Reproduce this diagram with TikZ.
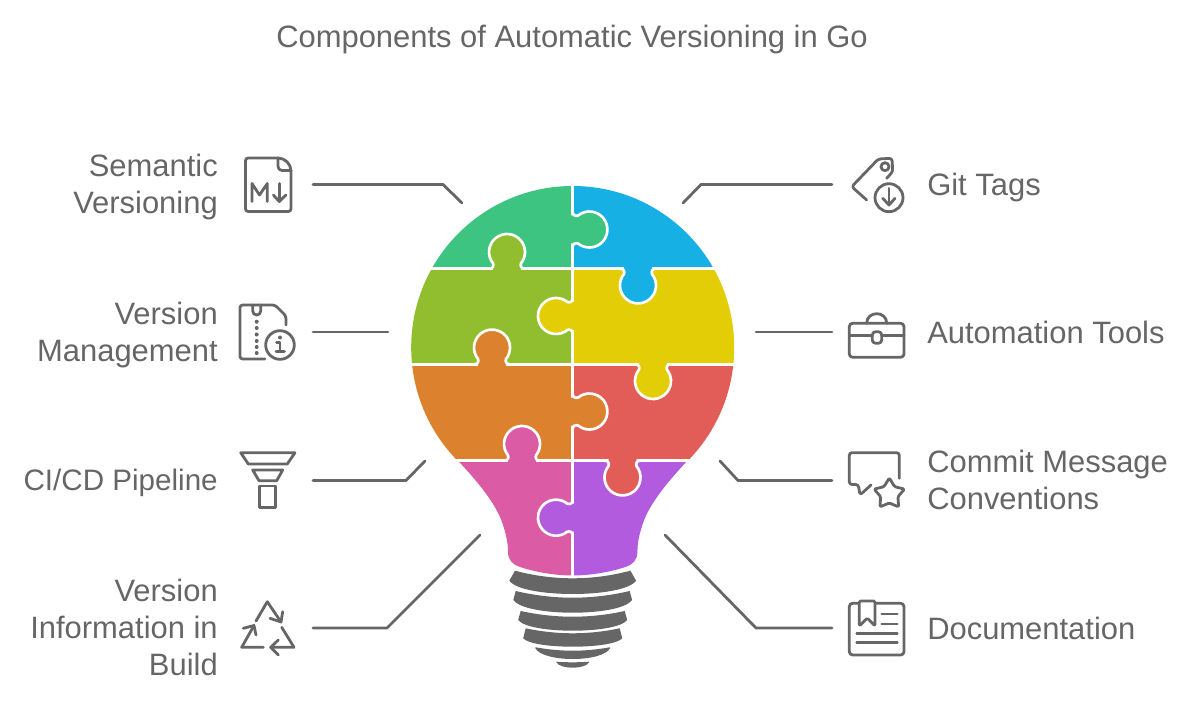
\documentclass[tikz,border=0pt]{standalone}
\usepackage{fontspec}
\setmainfont{Liberation Sans}
\usetikzlibrary{calc}

\definecolor{inkgray}{HTML}{666666}
\definecolor{pzgreen}{HTML}{3CC480}
\definecolor{pzblue}{HTML}{16B0E4}
\definecolor{pzlime}{HTML}{90BE2E}
\definecolor{pzyellow}{HTML}{E2CD07}
\definecolor{pzorange}{HTML}{DC812E}
\definecolor{pzred}{HTML}{E25D58}
\definecolor{pzpink}{HTML}{DB5BA5}
\definecolor{pzpurple}{HTML}{B35BDE}

\tikzset{
    seam/.style={draw=white, line width=2pt},
    leader/.style={draw=inkgray, line width=2.1pt, line cap=round, line join=round},
    icon/.style={draw=inkgray, line width=2.1pt, line cap=round, line join=round},
    label/.style={text=inkgray, inner sep=0pt, font=\fontsize{23.2}{27.7}\selectfont},
}

% one tab of the puzzle: base middle, turn, colour
\newcommand{\puzzletab}[4]{
    \begin{scope}[shift={(#1,#2)}, rotate=#3]
        \fill[#4] (-14,1.6) -- (-14,-5.4) arc[start angle=141.1, end angle=398.9, radius=18] -- (14,1.6) -- cycle;
        \fill[#4] (-17.5,0) .. controls (-14.5,0) and (-13,-2.5) .. (-14,-5.4) -- (14,-5.4) .. controls (13,-2.5) and (14.5,0) .. (17.5,0) -- cycle;
        \draw[seam, line cap=round] (-17.5,0) .. controls (-14.5,0) and (-13,-2.5) .. (-14,-5.4)
            arc[start angle=141.1, end angle=398.9, radius=18]
            .. controls (13,-2.5) and (14.5,0) .. (17.5,0);
    \end{scope}
}

\begin{document}
\begin{tikzpicture}[x=0.75pt, y=-0.75pt]
    \useasboundingbox (0,0) rectangle (1200,702);

    % glass
    \begin{scope}
        \clip (572.7,347.5) circle (161.5);
        \fill[pzgreen] (400,180) rectangle (572.7,268.7);
        \fill[pzblue] (572.7,180) rectangle (740,268.7);
        \fill[pzlime] (400,268.7) rectangle (572.7,364.3);
        \fill[pzyellow] (572.7,268.7) rectangle (740,364.3);
        \fill[pzorange] (400,364.3) rectangle (572.7,460.7);
        \fill[pzred] (572.7,364.3) rectangle (740,460.7);
    \end{scope}
    \fill[pzpink] (458,460.7) .. controls (478,482) and (497,505) .. (503,525)
        .. controls (507,537) and (508,545) .. (508,552)
        .. controls (508,560) and (513,565) .. (520,567)
        .. controls (535,572) and (555,575.5) .. (572.7,575.5) -- (572.7,460.7) -- cycle;
    \fill[pzpurple] (687.4,460.7) .. controls (667.4,482) and (648.4,505) .. (642.4,525)
        .. controls (638.4,537) and (637.4,545) .. (637.4,552)
        .. controls (637.4,560) and (632.4,565) .. (625.4,567)
        .. controls (610.4,572) and (590.4,575.5) .. (572.7,575.5) -- (572.7,460.7) -- cycle;

    \draw[seam] (572.7,184) -- (572.7,577);
    \draw[seam] (425,268.7) -- (720,268.7);
    \draw[seam] (405,364.3) -- (740,364.3);
    \draw[seam] (450,460.7) -- (695,460.7);

    \puzzletab{572.7}{229.5}{-90}{pzgreen}
    \puzzletab{507}{268.7}{0}{pzlime}
    \puzzletab{638}{268.7}{180}{pzblue}
    \puzzletab{572.7}{316}{90}{pzyellow}
    \puzzletab{492}{364.3}{0}{pzorange}
    \puzzletab{653}{364.3}{180}{pzyellow}
    \puzzletab{572.7}{411.5}{-90}{pzorange}
    \puzzletab{522}{460.7}{0}{pzpink}
    \puzzletab{622.5}{460.7}{180}{pzred}
    \puzzletab{572.7}{517.7}{90}{pzpurple}

    % screw base
    \foreach \xt/\yt/\ym/\xs/\ys/\yb in {
        57.7/570.7/578.3/63.4/580.7/594,
        57/591/597.7/59.4/600/612.7,
        52/611/616.7/54.5/620/630.7,
        47/628.3/633.3/49.5/638.3/646.7,
        37/647.3/650.7/37.5/648/659,
        16/661.7/662.3/16.5/662/667.7} {
        \fill[inkgray] ($(572.7,0)+(-\xt,\yt)$)
            .. controls ($(572.7,0)+(-\xt/3,{\yt+(\ym-\yt)/0.75})$) and ($(572.7,0)+(\xt/3,{\yt+(\ym-\yt)/0.75})$) .. ($(572.7,0)+(\xt,\yt)$)
            -- ($(572.7,0)+(\xs,\ys)$)
            .. controls ($(572.7,0)+(\xs*0.8,{\ys+(\yb-\ys)/0.75})$) and ($(572.7,0)+(-\xs*0.8,{\ys+(\yb-\ys)/0.75})$) .. ($(572.7,0)+(-\xs,\ys)$)
            -- cycle;
    }

    % texts
    \node[label] (title) at (572,40) {Components of Automatic Versioning in Go};
    \node[label, anchor=east, align=right] (semver) at (218,187) {Semantic\\Versioning};
    \node[label, anchor=east, align=right] (vermgmt) at (218,335) {Version\\Management};
    \node[label, anchor=east, font=\fontsize{22.2}{27.7}\selectfont] (cicd) at (218,482.5) {CI/CD Pipeline};
    \node[label, anchor=east, align=right] (verinfo) at (218,627.5) {Version\\Information in\\Build};
    \node[label, anchor=west] (gittags) at (927,187.5) {Git Tags};
    \node[label, anchor=west] (autotools) at (927,332) {Automation Tools};
    \node[label, anchor=west, align=left] (commitconv) at (927,480) {Commit Message\\Conventions};
    \node[label, anchor=west] (docs) at (927,628) {Documentation};

    % leader lines
    \coordinate (semvera) at (313,184.5);
    \coordinate (semverb) at (443,184.5);
    \coordinate (semverc) at (462,203);
    \coordinate (vermgmta) at (313,332);
    \coordinate (vermgmtb) at (388,332);
    \coordinate (cicda) at (313,480.5);
    \coordinate (cicdb) at (406,480.5);
    \coordinate (cicdc) at (425,461);
    \coordinate (verinfoa) at (313,628);
    \coordinate (verinfob) at (387,628);
    \coordinate (verinfoc) at (480,535);
    \coordinate (gittagsa) at (832,184.5);
    \coordinate (gittagsb) at (701,184.5);
    \coordinate (gittagsc) at (683,203);
    \coordinate (autotoolsa) at (832,332);
    \coordinate (autotoolsb) at (756,332);
    \coordinate (commitconva) at (832,480.5);
    \coordinate (commitconvb) at (738,480.5);
    \coordinate (commitconvc) at (720,461);
    \coordinate (docsa) at (832,628);
    \coordinate (docsb) at (756,628);
    \coordinate (docsc) at (665,535);
    \draw[leader] (semvera) -- (semverb) -- (semverc);
    \draw[leader] (vermgmta) -- (vermgmtb);
    \draw[leader] (cicda) -- (cicdb) -- (cicdc);
    \draw[leader] (verinfoa) -- (verinfob) -- (verinfoc);
    \draw[leader] (gittagsa) -- (gittagsb) -- (gittagsc);
    \draw[leader] (autotoolsa) -- (autotoolsb);
    \draw[leader] (commitconva) -- (commitconvb) -- (commitconvc);
    \draw[leader] (docsa) -- (docsb) -- (docsc);

    % icon: markdown file
    \draw[icon, rounded corners=2] (278,158) -- (245.5,158) -- (245.5,211.5) -- (291,211.5) -- (291,171);
    \draw[icon] (278,158) .. controls (285,158) and (291,164) .. (291,171);
    \draw[icon, rounded corners=3] (278,158) -- (278,170.5) -- (291,170.5);
    \draw[icon] (252,201.5) -- (252,183.5) -- (259.5,195) -- (267.3,183.5) -- (267.3,201.5);
    \draw[icon] (279.3,183.5) -- (279.3,201.5);
    \draw[icon] (273.3,195) -- (279.3,201.5) -- (286,195);

    % icon: zipped file with info
    \draw[icon, rounded corners=2] (286,325) -- (286,316) -- (275,305) -- (240,305) -- (240,359) -- (265,359);
    \draw[icon, rounded corners=3] (252.7,305) -- (252.7,315) -- (260.7,315) -- (260.7,305);
    \foreach \y in {321.7,328,334.5,341,347,353} {
        \fill[inkgray] (256.7,\y) circle (2);
    }
    \draw[icon] (280,345) circle (14.3);
    \fill[inkgray] (280,337.5) circle (2);
    \draw[icon] (276.5,342.5) -- (280,342.5) -- (280,351.5);
    \draw[icon] (276,351.5) -- (284.5,351.5);

    % icon: funnel
    \draw[icon] (240.7,452.7) -- (295,452.7) -- (287.3,464) -- (248.3,464) -- cycle;
    \draw[icon] (252.7,470) -- (282.7,470) -- (276.7,480.7) -- (259,480.7) -- cycle;
    \draw[icon] (259.3,486) rectangle (275.7,507.7);

    % icon: recycle arrows
    \draw[icon] (256,621) -- (267.3,601.7) -- (281,622);
    \draw[icon] (270,618.3) -- (281,622) -- (282.7,611.7);
    \draw[icon] (263.3,647.3) -- (241.7,647.3) -- (254,625.5);
    \draw[icon] (243.3,628.3) -- (254,625.5) -- (256,635);
    \draw[icon] (281.7,627.3) -- (294,647.3) -- (270.7,647.3);
    \draw[icon] (278.3,640) -- (270.7,647.3) -- (278.3,655);

    % icon: tag with download
    \draw[icon, rounded corners=2] (866.7,200) -- (851.7,186.7) -- (878.3,159) -- (892,158.3) -- (892.7,171.7) -- (886.7,178.3);
    \draw[icon] (885,166.7) circle (4);
    \draw[icon] (889,197.7) circle (14);
    \draw[icon] (889,188.3) -- (889,205);
    \draw[icon] (882.7,198.3) -- (889,205) -- (895,198.3);

    % icon: briefcase
    \draw[icon, rounded corners=2.5] (849.3,323.3) rectangle (904,357.3);
    \draw[icon] (849.3,335.7) -- (872,335.7);
    \draw[icon] (882,335.7) -- (904,335.7);
    \draw[icon, rounded corners=2.5] (872.3,331.7) -- (872.3,343.3) -- (881.7,343.3) -- (881.7,331.7) -- cycle;
    \draw[icon] (866.7,323.3) .. controls (866.7,310.5) and (886.7,310.5) .. (886.7,323.3);

    % icon: speech bubble with star
    \draw[icon, rounded corners=2] (899.3,478.3) -- (899.3,452.7) -- (849.3,452.7) -- (849.3,484.5) -- (858.3,484.5) -- (860,495) -- (871,485);
    \draw[icon, rounded corners=1] (889.3,478) -- (894.6,486.7) -- (904.5,489.1) -- (897.9,496.8) -- (898.7,506.9)
        -- (889.3,503) -- (879.9,506.9) -- (880.7,496.8) -- (874.1,489.1) -- (884,486.7) -- cycle;

    % icon: document with bookmark
    \draw[icon, rounded corners=2.5] (849.3,603.3) rectangle (904,655);
    \draw[icon, fill=white, rounded corners=1] (859.3,626) -- (859.3,601) -- (875,601) -- (875,626) -- (867.3,618) -- cycle;
    \draw[icon] (881.7,614) -- (897.3,614);
    \draw[icon] (881.7,624) -- (897.3,624);
    \draw[icon] (856.7,633.3) -- (897.3,633.3);
    \draw[icon] (856.7,642.3) -- (897.3,642.3);
\end{tikzpicture}
\end{document}
